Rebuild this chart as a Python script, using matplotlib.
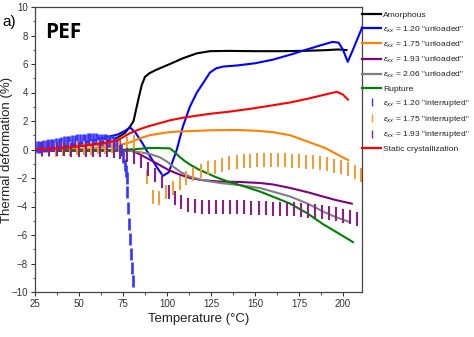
import matplotlib
matplotlib.use("Agg")
import matplotlib.pyplot as plt
from matplotlib.lines import Line2D
from matplotlib.ticker import MultipleLocator

plt.rcParams['font.family'] = ['Liberation Sans', 'DejaVu Sans']
plt.rcParams['mathtext.fontset'] = 'custom'
plt.rcParams['mathtext.it'] = 'Liberation Sans:italic'
plt.rcParams['mathtext.rm'] = 'Liberation Sans'

# ---- continuous curves (temperature in °C, deformation in %) ----
amorph_T = [25, 40, 55, 65, 72, 76, 79, 81, 83.7, 85.6, 87.5, 90, 94, 101.7, 109, 117,
            124.4, 135, 150, 165, 180, 190, 197, 202]
amorph_v = [0.0, 0.1, 0.3, 0.55, 0.85, 1.15, 1.6, 2.0, 3.5, 4.5, 5.1, 5.35, 5.6, 6.0, 6.4,
            6.75, 6.9, 6.92, 6.9, 6.9, 6.93, 6.97, 7.02, 6.98]

unl120_T = [25, 35, 45, 55, 65, 72, 76, 79, 82, 86, 90, 94, 97.7, 101, 105.6, 109, 113, 117,
            121, 124.4, 128, 132, 140, 150, 160, 170, 179, 187, 194, 197.5, 200, 202.7, 206, 211]
unl120_v = [0.0, 0.1, 0.3, 0.55, 0.85, 1.05, 1.3, 1.55, 1.2, 0.45, -0.4, -1.2, -1.85, -1.6,
            0.0, 1.6, 3.0, 4.0, 4.75, 5.4, 5.7, 5.82, 5.9, 6.05, 6.3, 6.65, 7.0, 7.3, 7.55,
            7.5, 7.0, 6.15, 7.1, 8.6]

unl175_T = [25, 40, 55, 65, 72, 76, 80, 85, 90, 95, 100, 105, 115, 125, 140, 150, 160, 170,
            180, 190, 196, 203]
unl175_v = [0.0, 0.0, 0.05, 0.15, 0.3, 0.4, 0.55, 0.8, 1.0, 1.1, 1.2, 1.25, 1.3, 1.35, 1.37,
            1.32, 1.22, 1.0, 0.55, 0.1, -0.3, -0.75]

unl193_T = [25, 50, 75, 80, 84, 90, 96, 101, 107, 113, 120, 130, 141.5, 152.8, 160, 170, 180,
            188.6, 196, 205]
unl193_v = [-0.1, -0.1, -0.1, -0.1, -0.3, -0.7, -1.1, -1.45, -1.75, -2.0, -2.15, -2.25,
            -2.28, -2.35, -2.45, -2.7, -3.0, -3.3, -3.55, -3.8]

unl206_T = [25, 50, 75, 80, 84.7, 90, 96, 100, 103.5, 108, 113, 120, 130, 141.5, 152.8, 160,
            170, 180, 188.6, 196, 204]
unl206_v = [-0.05, -0.05, -0.07, -0.1, -0.2, -0.3, -0.55, -0.85, -1.2, -1.6, -1.9, -2.15,
            -2.35, -2.5, -2.7, -2.95, -3.3, -3.8, -4.35, -4.75, -5.1]

rupture_T = [25, 50, 75, 85, 88.6, 95, 101.7, 104, 107, 110, 113, 118, 122.6, 128, 135.8,
             141.5, 152.8, 160, 170, 180, 188.8, 197, 205.7]
rupture_v = [-0.05, -0.05, -0.02, 0.05, 0.1, 0.1, 0.08, -0.15, -0.5, -0.8, -1.05, -1.4,
             -1.65, -1.95, -2.3, -2.5, -2.95, -3.3, -3.8, -4.5, -5.25, -5.85, -6.5]

static_T = [25, 35, 45, 55, 65, 72, 79, 85, 90, 96, 101.7, 110, 124, 135, 147, 160, 170,
            179.5, 188, 196.5, 200, 202.8]
static_v = [0.0, 0.05, 0.15, 0.3, 0.45, 0.65, 1.15, 1.45, 1.65, 1.85, 2.05, 2.25, 2.5, 2.65,
            2.85, 3.1, 3.3, 3.55, 3.8, 4.05, 3.85, 3.5]

# ---- interrupted tests (discrete readings) ----
int120_T = [25, 26.5, 28, 29.5, 31, 32.5, 34, 35.5, 37, 38.5, 40, 41.5, 43, 44.5, 46, 47.5,
            49, 50.5, 52, 53.5, 55, 56.5, 58, 59.5, 61, 62.5, 64, 65.5, 67, 68.5, 70, 71.5,
            73, 74, 75, 76, 76.5, 77, 77.5, 78, 78.5, 79, 79.5, 80, 80.5]
int120_v = [0.15, 0.2, 0.2, 0.25, 0.25, 0.3, 0.3, 0.35, 0.4, 0.4, 0.45, 0.5, 0.5, 0.55, 0.6,
            0.6, 0.65, 0.65, 0.7, 0.7, 0.72, 0.72, 0.72, 0.72, 0.7, 0.7, 0.68, 0.65, 0.62,
            0.6, 0.55, 0.45, 0.3, 0.0, -0.5, -1.1, -1.5, -2.0, -3.0, -4.1, -5.2, -6.3, -7.3,
            -8.3, -9.2]

int175_T = [29, 33, 37, 41, 45, 49, 53, 57, 61, 65, 69, 73, 77, 81, 85, 88.5, 92, 95.5,
            99.5, 103.5, 107.5, 111, 115, 119.5, 123.5, 127.5, 131, 135, 139.5, 143.5, 147,
            151, 155, 159, 163, 167, 171, 175, 179, 183, 187, 191, 195, 199, 203, 207, 210.3]
int175_v = [0.0, 0.0, 0.0, 0.05, 0.05, 0.1, 0.1, 0.1, 0.15, 0.2, 0.25, 0.3, 0.4, 0.55, -0.6,
            -1.9, -3.3, -3.4, -3.0, -2.7, -2.35, -2.0, -1.7, -1.5, -1.3, -1.2, -1.1, -0.97,
            -0.88, -0.8, -0.78, -0.76, -0.75, -0.75, -0.75, -0.76, -0.78, -0.8, -0.85, -0.9,
            -0.97, -1.05, -1.15, -1.25, -1.4, -1.55, -1.8]

int193_T = [29, 33, 37.5, 41.5, 45.5, 50, 54, 58, 62, 66, 70, 73.5, 77, 81, 85, 89, 93, 97,
            101, 104.5, 108, 112, 116, 120, 124, 128, 132, 136, 140, 144, 148, 152, 156, 160,
            164, 168, 172, 176, 180, 184, 188, 192, 196, 200, 204, 208]
int193_v = [0.05, 0.05, 0.05, 0.05, 0.0, 0.0, 0.0, 0.0, -0.05, -0.05, -0.1, -0.2, -0.4,
            -0.55, -0.8, -1.4, -1.8, -2.2, -3.0, -3.4, -3.7, -3.9, -3.95, -4.0, -4.0, -4.0,
            -4.0, -4.0, -4.05, -4.05, -4.1, -4.1, -4.1, -4.15, -4.15, -4.2, -4.2, -4.25, -4.3,
            -4.35, -4.4, -4.45, -4.55, -4.65, -4.75, -4.85]

labels = ['Amorphous',
          r'$\varepsilon_{xx}$ = 1.20 "unloaded"',
          r'$\varepsilon_{xx}$ = 1.75 "unloaded"',
          r'$\varepsilon_{xx}$ = 1.93 "unloaded"',
          r'$\varepsilon_{xx}$ = 2.06 "unloaded"',
          'Rupture',
          r'$\varepsilon_{xx}$ = 1.20 "interrupted"',
          r'$\varepsilon_{xx}$ = 1.75 "interrupted"',
          r'$\varepsilon_{xx}$ = 1.93 "interrupted"',
          'Static crystallization']

c_black, c_blue, c_orange, c_purple = '#000000', '#0000ff', '#ff8000', '#800080'
c_gray, c_green, c_red = '#808080', '#008000', '#ff0000'
c_blue_i, c_orange_i, c_purple_i = '#3535ff', '#f59a30', '#8a1e8a'

fig = plt.figure(figsize=(4.74, 3.37), dpi=100)
ax = fig.add_axes([35 / 474, 45 / 337, 327 / 474, 285 / 337])

lw = 1.5
ax.plot(amorph_T, amorph_v, color=c_black, lw=lw)
ax.plot(unl120_T, unl120_v, color=c_blue, lw=lw)
ax.plot(unl175_T, unl175_v, color=c_orange, lw=lw)
ax.plot(unl193_T, unl193_v, color=c_purple, lw=lw)
ax.plot(unl206_T, unl206_v, color=c_gray, lw=lw)
ax.plot(rupture_T, rupture_v, color=c_green, lw=lw)
ax.plot(int120_T, int120_v, ls='none', marker='|', ms=9, mew=1.9, color=c_blue_i)
ax.plot(int175_T, int175_v, ls='none', marker='|', ms=9.5, mew=1.4, color=c_orange_i)
ax.plot(int193_T, int193_v, ls='none', marker='|', ms=10, mew=1.5, color=c_purple_i)
ax.plot(static_T, static_v, color=c_red, lw=lw)

ax.set_xlim(25, 210.8)
ax.set_ylim(-10, 10)
ax.xaxis.set_major_locator(MultipleLocator(25))
ax.xaxis.set_minor_locator(MultipleLocator(12.5))
ax.yaxis.set_major_locator(MultipleLocator(2))
ax.yaxis.set_minor_locator(MultipleLocator(1))
ax.tick_params(which='major', direction='out', length=3, width=0.8, color='#333333',
               labelsize=7, labelcolor='#333333', pad=2)
ax.tick_params(which='minor', direction='out', length=1.8, width=0.6, color='#333333')
for sp in ax.spines.values():
    sp.set_color('#444444')
    sp.set_linewidth(0.9)

ax.set_xlabel('Temperature (°C)', fontsize=9.5, color='#222222')
ax.xaxis.set_label_coords(0.5, -0.075)
ax.set_ylabel('Thermal deformation (%)', fontsize=9.5, color='#222222')
ax.yaxis.set_label_coords(-0.068, 0.5)

fig.text(2 / 474, 1 - 22 / 337, 'a)', fontsize=11, va='center', ha='left')
fig.text(45 / 474, 1 - 33 / 337, 'PEF', fontsize=15, fontweight='bold', va='center',
         ha='left', family=['Open Sans', 'DejaVu Sans'])

line_colors = [c_black, c_blue, c_orange, c_purple, c_gray, c_green]
handles = [Line2D([], [], color=c, lw=1.6) for c in line_colors]
handles += [Line2D([], [], ls='none', marker='|', ms=6, mew=1.0, color=c)
            for c in (c_blue_i, c_orange_i, c_purple_i)]
handles.append(Line2D([], [], color=c_red, lw=1.6))

fig.legend(handles, labels, loc='upper left', bbox_to_anchor=(362 / 474, 1 - 11.5 / 337),
           frameon=False, fontsize=6.1, handlelength=2.3, handletextpad=0.15,
           labelspacing=0.58, borderpad=0, borderaxespad=0, labelcolor='#222222')

fig.savefig('out.png', dpi=100)
